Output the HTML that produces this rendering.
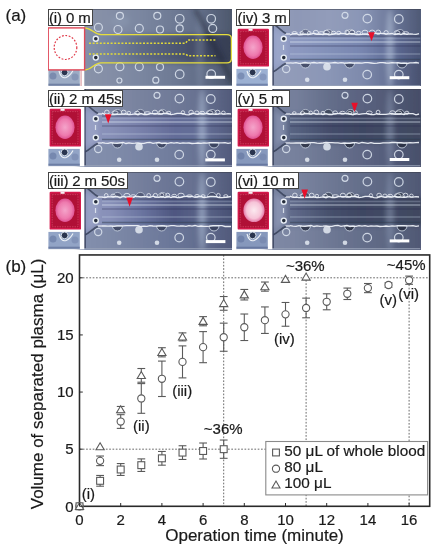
<!DOCTYPE html>
<html><head><meta charset="utf-8"><title>Plasma separation</title><style>
*{box-sizing:border-box}
html,body{margin:0;padding:0}
body{width:434px;height:550px;background:#fff;position:relative;overflow:hidden;font-family:"Liberation Sans",Arial,sans-serif;color:#1a1a1a}
.chart{position:absolute;left:0;top:0}
.tag{position:absolute;font-size:17px;line-height:1;-webkit-text-stroke:0.2px #1a1a1a}
.pan{position:absolute;width:184.3px;height:77.3px;overflow:hidden}
.ph{position:absolute;left:0;top:0}
.lb{position:absolute;left:0;top:0;height:17px;background:#fff;border:1px solid #444;font-size:15px;line-height:15px;padding:0 0 0 0.3px;letter-spacing:-0.12px;-webkit-text-stroke:0.2px #1a1a1a;white-space:nowrap;z-index:5}
</style></head>
<body>
<div class="tag" style="left:5.5px;top:6.5px">(a)</div>
<div class="tag" style="left:5.5px;top:258px">(b)</div>
<div class="pan" style="left:47.6px;top:9.2px"><svg class="ph" width="184.3" height="77.3" viewBox="0 0 184.3 77.3">
<defs>
<linearGradient id="gti" x1="0" y1="0" x2="1" y2="0"><stop offset="0.000" stop-color="#8a94aa"/><stop offset="0.200" stop-color="#848ea6"/><stop offset="0.400" stop-color="#7a86a0"/><stop offset="0.600" stop-color="#6e7a94"/><stop offset="0.800" stop-color="#5e6a84"/><stop offset="1.000" stop-color="#4a5468"/></linearGradient>
<linearGradient id="gci" x1="0" y1="0" x2="1" y2="0"><stop offset="0.000" stop-color="#8a96ac"/><stop offset="0.200" stop-color="#7482a0"/><stop offset="0.400" stop-color="#5e6a86"/><stop offset="0.600" stop-color="#4e5874"/><stop offset="0.800" stop-color="#3e4660"/><stop offset="1.000" stop-color="#343c50"/></linearGradient>
<linearGradient id="gbi" x1="0" y1="0" x2="1" y2="0"><stop offset="0.000" stop-color="#8a94aa"/><stop offset="0.200" stop-color="#848ea6"/><stop offset="0.400" stop-color="#7a86a0"/><stop offset="0.600" stop-color="#6e7a94"/><stop offset="0.800" stop-color="#5e6a84"/><stop offset="1.000" stop-color="#4a5468"/></linearGradient>
<filter id="bli" x="-50%" y="-50%" width="200%" height="200%"><feGaussianBlur stdDeviation="2.5"/></filter>
<filter id="bsi" x="-50%" y="-50%" width="200%" height="200%"><feGaussianBlur stdDeviation="0.5"/></filter>
<radialGradient id="pki" cx="0.5" cy="0.5" r="0.5"><stop offset="0" stop-color="#f4a4ca"/><stop offset="0.7" stop-color="#ee7aae"/><stop offset="1" stop-color="#de5292"/></radialGradient>
</defs>
<g filter="url(#bli)">
<rect x="30" y="-5" width="159.3" height="31" fill="url(#gti)"/>
<rect x="30" y="52" width="159.3" height="30.299999999999997" fill="url(#gbi)"/>
<path d="M30 17 C44 17 46 25 54 25 L189.3 25 L189.3 54 L54 54 C46 54 44 61 30 61 Z" fill="url(#gci)"/>
<ellipse cx="152" cy="40" rx="4" ry="45" fill="#8a98b0" opacity="0.35"/>
<ellipse cx="72" cy="12" rx="10" ry="6" fill="#8c9ab2" opacity="0.5"/>
</g>
<path d="M145 0 L150 0 L184 66 L184 77 Z" fill="#1c2030" opacity="0.55" filter="url(#bli)"/>
<g fill="none" stroke="#d8e0ec" stroke-width="1.2" opacity="0.9" filter="url(#bsi)">
<circle cx="50.4" cy="18.4" r="4"/>
<circle cx="71.9" cy="6.8" r="3.5"/>
<circle cx="70" cy="20.5" r="4"/>
<circle cx="91.3" cy="19.4" r="4"/>
<circle cx="109.3" cy="6.8" r="3.5"/>
<circle cx="131.7" cy="9.8" r="4.3"/>
<circle cx="163.2" cy="9.8" r="4.3"/>
<circle cx="164.7" cy="19.4" r="4"/>
<circle cx="112" cy="20.5" r="3.5"/>
<circle cx="131.7" cy="19.4" r="3.5"/>
<circle cx="50.4" cy="59.8" r="4"/>
<circle cx="71.9" cy="57.7" r="4"/>
<circle cx="91.3" cy="57.7" r="4"/>
<circle cx="107.8" cy="71.2" r="3"/>
<circle cx="131.7" cy="65.2" r="4.3"/>
<circle cx="163.2" cy="65.2" r="4.3"/>
<circle cx="71.4" cy="71.5" r="2.5"/>
<circle cx="112" cy="58" r="3.5"/>
</g>
<g fill="none" stroke="#e6de3c" stroke-width="1.3">
<path d="M36.5 18.8 C44 19 46 25.6 53 25.6 L179 25.6 Q183.4 25.6 183.4 29.5 L183.4 49.8 Q183.4 53.8 179 53.8 L53 53.8 C46 53.8 44 61 36.5 61"/>
</g>
<g fill="none" stroke="#e2da3a" stroke-width="1.5" stroke-dasharray="2 1.6">
<path d="M41 34.3 L137.5 34.3 L140 31 L167.5 31"/>
<path d="M41 45 L137.5 45 L140 46.8 L167.5 46.8"/>
</g>
<circle cx="47.8" cy="29.8" r="2.5" fill="#262e3c" stroke="#e8eef6" stroke-width="1.4"/>
<circle cx="47.8" cy="48.6" r="2.5" fill="#262e3c" stroke="#e8eef6" stroke-width="1.4"/>
<rect x="157.5" y="66.8" width="19.6" height="3" fill="#fff"/>
<rect x="0" y="0" width="184.3" height="1" fill="#3a3e4a" opacity="0.55"/>
<rect x="0" y="76.1" width="184.3" height="1.2" fill="#9aa4b8" opacity="0.8"/>
<rect x="0" y="0" width="36.3" height="77.3" fill="#ffffff"/>
<rect x="0.4" y="59.9" width="31.4" height="16.9" fill="#9cabc4"/>
<g filter="url(#bsi)"><circle cx="16.6" cy="63.4" r="3.4" fill="#2a3650"/><circle cx="16.6" cy="63.4" r="3.4" fill="none" stroke="#dfe8f2" stroke-width="0.9"/><path d="M11 62 Q13 70 18 68.5 Q22 67 25 61.5" fill="none" stroke="#f0f4f8" stroke-width="1.1"/><circle cx="5" cy="67" r="3.5" fill="#5a6c98" opacity="0.5"/><circle cx="27" cy="68" r="3.5" fill="#6a7ca4" opacity="0.45"/></g>
<rect x="0.4" y="74.7" width="31.4" height="2.1" fill="#4e5e8a" opacity="0.55"/>
<rect x="0.2" y="18.9" width="36.4" height="42" fill="#fff" stroke="#e04858" stroke-width="1.4"/>
<ellipse cx="17.5" cy="38.5" rx="11.3" ry="12" fill="none" stroke="#e03848" stroke-width="1.2" stroke-dasharray="1.8 1.6"/>
<rect x="32.6" y="61" width="0.9" height="16.299999999999997" fill="#d08088"/>
</svg><div class="lb" style="width:45.6px;top:-0.2px">(i) 0 m</div></div>
<div class="pan" style="left:47.6px;top:89.4px"><svg class="ph" width="184.3" height="77.3" viewBox="0 0 184.3 77.3">
<defs>
<linearGradient id="gtii" x1="0" y1="0" x2="1" y2="0"><stop offset="0.000" stop-color="#848ea8"/><stop offset="0.200" stop-color="#808aa6"/><stop offset="0.400" stop-color="#78829e"/><stop offset="0.600" stop-color="#707a98"/><stop offset="0.800" stop-color="#646e8e"/><stop offset="1.000" stop-color="#4e5676"/></linearGradient>
<linearGradient id="gcii" x1="0" y1="0" x2="1" y2="0"><stop offset="0.000" stop-color="#8c94bc"/><stop offset="0.200" stop-color="#8890b8"/><stop offset="0.400" stop-color="#7880aa"/><stop offset="0.600" stop-color="#646c98"/><stop offset="0.800" stop-color="#646e96"/><stop offset="1.000" stop-color="#4e5678"/></linearGradient>
<linearGradient id="gbii" x1="0" y1="0" x2="1" y2="0"><stop offset="0.000" stop-color="#8490ae"/><stop offset="0.200" stop-color="#808caa"/><stop offset="0.400" stop-color="#7884a4"/><stop offset="0.600" stop-color="#707c9c"/><stop offset="0.800" stop-color="#646e90"/><stop offset="1.000" stop-color="#4e5678"/></linearGradient>
<filter id="blii" x="-50%" y="-50%" width="200%" height="200%"><feGaussianBlur stdDeviation="2.5"/></filter>
<filter id="bsii" x="-50%" y="-50%" width="200%" height="200%"><feGaussianBlur stdDeviation="0.5"/></filter>
<radialGradient id="pkii" cx="0.5" cy="0.5" r="0.5"><stop offset="0" stop-color="#f4a4ca"/><stop offset="0.7" stop-color="#ee7aae"/><stop offset="1" stop-color="#de5292"/></radialGradient>
</defs>
<g filter="url(#blii)">
<rect x="30" y="-5" width="159.3" height="31" fill="url(#gtii)"/>
<rect x="30" y="52" width="159.3" height="30.299999999999997" fill="url(#gbii)"/>
<path d="M30 17 C44 17 46 25 54 25 L189.3 25 L189.3 54 L54 54 C46 54 44 61 30 61 Z" fill="url(#gcii)"/>
<ellipse cx="154" cy="40" rx="3.5" ry="40" fill="#b4c4dc" opacity="0.55"/>
</g>
<g fill="none" stroke-width="1.3" filter="url(#bsii)">
<path d="M54 27.2 L184.3 27.2" stroke="#2a3048" opacity="0.4"/>
<path d="M54 29.5 L184.3 29.5" stroke="#c8d4e8" opacity="0.25"/>
<path d="M54 33 L184.3 33" stroke="#dde6f4" opacity="0.45"/>
<path d="M54 37 L184.3 37" stroke="#2a3048" opacity="0.3"/>
<path d="M54 45 L184.3 45" stroke="#c8d4e8" opacity="0.3"/>
<path d="M54 50.5 L184.3 50.5" stroke="#2a3048" opacity="0.45"/>
</g>
<g fill="none" stroke="#d8e0ec" stroke-width="1.2" opacity="0.9" filter="url(#bsii)">
<circle cx="109" cy="6.3" r="3"/>
<circle cx="131.4" cy="9.6" r="4.3"/>
<circle cx="162.8" cy="10" r="4.3"/>
<circle cx="50.2" cy="60" r="3.6"/>
<circle cx="131.2" cy="65.6" r="4.3"/>
<circle cx="162.8" cy="65.6" r="4.3"/>
</g>
<g fill="#e4eaf2" opacity="0.85" filter="url(#bsii)">
<circle cx="91" cy="57.7" r="3.8"/>
<circle cx="71.2" cy="70.8" r="2.3"/>
<circle cx="109" cy="70.8" r="2.3"/>
</g>
<g filter="url(#bsii)" stroke="#c4cede" stroke-width="0.9" fill="#323a54">
<path d="M64.80000000000001 25 A4.6 4.6 0 0 1 74.0 25 Z" fill-opacity="0.5" stroke-opacity="0.8"/>
<path d="M87.80000000000001 25 A4.6 4.6 0 0 1 97.0 25 Z" fill-opacity="0.5" stroke-opacity="0.8"/>
<path d="M109.9 25 A4.6 4.6 0 0 1 119.1 25 Z" fill-opacity="0.5" stroke-opacity="0.8"/>
<path d="M159.4 25 A4.6 4.6 0 0 1 168.6 25 Z" fill-opacity="0.5" stroke-opacity="0.8"/>
<path d="M64.4 54 A5 5 0 0 0 74.4 54 Z" fill-opacity="0.75"/>
<path d="M108.6 54 A5 5 0 0 0 118.6 54 Z" fill-opacity="0.75"/>
<path d="M161 54 A5 5 0 0 0 171 54 Z" fill-opacity="0.75"/>
</g>
<g fill="none" stroke="#eef2f8" stroke-width="1.3" filter="url(#bsii)" opacity="0.95">
<path d="M49 25 L54 25"/><path d="M54.0,24.2 L57.0,25.3 L60.0,25.1 L63.0,25.6 L66.0,25.7 L69.0,25.3 L72.0,25.4 L75.0,25.1 L78.0,25.0 L81.0,25.6 L84.0,25.4 L87.0,24.8 L90.0,25.7 L93.0,24.4 L96.0,25.5 L99.0,25.6 L102.0,24.6 L105.0,24.6 L108.0,24.7 L111.0,25.0 L114.0,24.7 L117.0,24.2 L120.0,24.5 L123.0,25.6 L126.0,25.1 L129.0,24.3 L132.0,24.4 L135.0,24.6 L138.0,25.7 L141.0,25.8 L144.0,24.2 L147.0,24.9 L150.0,25.4 L153.0,24.3 L156.0,25.1 L159.0,24.3 L162.0,25.2 L165.0,25.1 L168.0,25.4 L171.0,24.8 L174.0,24.8 L177.0,25.1 L180.0,24.7 L183.0,25.0"/>
<path d="M49 54 L54 54"/><path d="M54.0,53.6 L57.0,54.1 L60.0,54.3 L63.0,53.6 L66.0,54.1 L69.0,54.4 L72.0,53.8 L75.0,53.5 L78.0,54.5 L81.0,53.9 L84.0,54.3 L87.0,54.2 L90.0,53.9 L93.0,54.5 L96.0,54.4 L99.0,53.6 L102.0,53.5 L105.0,54.4 L108.0,53.9 L111.0,53.5 L114.0,54.5 L117.0,54.2 L120.0,54.3 L123.0,53.7 L126.0,54.1 L129.0,53.7 L132.0,54.4 L135.0,53.9 L138.0,54.1 L141.0,54.0 L144.0,54.5 L147.0,54.4 L150.0,54.0 L153.0,54.4 L156.0,53.8 L159.0,54.2 L162.0,53.6 L165.0,53.7 L168.0,53.7 L171.0,53.9 L174.0,53.9 L177.0,53.6 L180.0,54.4 L183.0,53.9"/>
</g>
<g fill="none" stroke="#283048" stroke-width="1.7" opacity="0.75" filter="url(#bsii)">
<path d="M36.8 15 C42 17 45 22 50 24.6"/><path d="M36.8 63 C42 61 45 56 50 54.4"/><path d="M37 0 L37 77"/>
</g>
<path d="M38 20 C43 22 46 26 50 27 L50 52 C46 53 43 57 38 59 Z" fill="#a8b2d0" opacity="0.45" filter="url(#blii)"/>
<rect x="46.9" y="36" width="1.2" height="5" fill="#e8eef6" opacity="0.8"/>
<g fill="none" stroke="#f2f5fa" stroke-width="0.9" opacity="0.85" filter="url(#bsii)">
<ellipse cx="58.9" cy="23.3" rx="2.3" ry="2.2"/>
<ellipse cx="67.0" cy="23.6" rx="2.9" ry="1.7"/>
<ellipse cx="75.7" cy="23.3" rx="2.4" ry="2.1"/>
<ellipse cx="80.9" cy="23.8" rx="1.7" ry="1.5"/>
<ellipse cx="89.1" cy="23.8" rx="2.4" ry="1.5"/>
<ellipse cx="99.4" cy="24.0" rx="3.1" ry="1.3"/>
<ellipse cx="106.9" cy="23.3" rx="2.6" ry="2.1"/>
<ellipse cx="113.3" cy="23.4" rx="2.3" ry="2.0"/>
<ellipse cx="120.8" cy="23.8" rx="2.0" ry="1.5"/>
<ellipse cx="134.9" cy="23.5" rx="1.7" ry="1.8"/>
<ellipse cx="143.1" cy="23.3" rx="2.3" ry="2.1"/>
<ellipse cx="148.9" cy="23.7" rx="2.0" ry="1.6"/>
<ellipse cx="154.1" cy="23.8" rx="2.5" ry="1.5"/>
<ellipse cx="161.6" cy="23.5" rx="3.2" ry="1.8"/>
<ellipse cx="169.5" cy="23.3" rx="2.5" ry="2.1"/>
<ellipse cx="175.4" cy="23.7" rx="1.8" ry="1.6"/>
</g>
<circle cx="47.8" cy="29.8" r="2.5" fill="#262e3c" stroke="#e8eef6" stroke-width="1.4"/>
<circle cx="47.8" cy="48.6" r="2.5" fill="#262e3c" stroke="#e8eef6" stroke-width="1.4"/>
<rect x="157.3" y="69.4" width="19.6" height="3" fill="#fff"/>
<polygon points="56.900000000000006,25.35 63.5,25.35 60.2,34.55" fill="#e8102a"/>
<rect x="0" y="0" width="184.3" height="1" fill="#3a3e4a" opacity="0.55"/>
<rect x="0" y="76.1" width="184.3" height="1.2" fill="#9aa4b8" opacity="0.8"/>
<rect x="0" y="0" width="36.3" height="77.3" fill="#ffffff"/>
<rect x="0.4" y="59.9" width="31.4" height="16.9" fill="#92a4c6"/>
<g filter="url(#bsii)"><circle cx="16.6" cy="63.4" r="3.4" fill="#2a3650"/><circle cx="16.6" cy="63.4" r="3.4" fill="none" stroke="#dfe8f2" stroke-width="0.9"/><path d="M11 62 Q13 70 18 68.5 Q22 67 25 61.5" fill="none" stroke="#f0f4f8" stroke-width="1.1"/><circle cx="5" cy="67" r="3.5" fill="#5a6c98" opacity="0.5"/><circle cx="27" cy="68" r="3.5" fill="#6a7ca4" opacity="0.45"/></g>
<rect x="0.4" y="74.7" width="31.4" height="2.1" fill="#4e5e8a" opacity="0.55"/>
<rect x="1.6" y="19.8" width="31.4" height="37.8" rx="1.2" fill="#d41a4c"/>
<rect x="3" y="21.4" width="28.6" height="34.6" rx="1" fill="#b01036"/>
<rect x="4.2" y="22.6" width="25.8" height="32.2" fill="none" stroke="#e8607e" stroke-width="0.6" stroke-dasharray="1.5 1" opacity="0.85"/>
<ellipse cx="17" cy="38.3" rx="9.6" ry="11.7" fill="url(#pkii)" filter="url(#bsii)"/>
<rect x="12.5" y="19.6" width="4.1" height="2.2" fill="#f6eef2"/>
</svg><div class="lb" style="width:75.8px;top:0.8px">(ii) 2 m 45s</div></div>
<div class="pan" style="left:47.6px;top:172.3px"><svg class="ph" width="184.3" height="77.3" viewBox="0 0 184.3 77.3">
<defs>
<linearGradient id="gtiii" x1="0" y1="0" x2="1" y2="0"><stop offset="0.000" stop-color="#848ea8"/><stop offset="0.200" stop-color="#808aa6"/><stop offset="0.400" stop-color="#747e9c"/><stop offset="0.600" stop-color="#6a7494"/><stop offset="0.800" stop-color="#646e8e"/><stop offset="1.000" stop-color="#4e5676"/></linearGradient>
<linearGradient id="gciii" x1="0" y1="0" x2="1" y2="0"><stop offset="0.000" stop-color="#8c94bc"/><stop offset="0.200" stop-color="#8890b8"/><stop offset="0.400" stop-color="#6a74a0"/><stop offset="0.600" stop-color="#4e5680"/><stop offset="0.800" stop-color="#5a6488"/><stop offset="1.000" stop-color="#444c70"/></linearGradient>
<linearGradient id="gbiii" x1="0" y1="0" x2="1" y2="0"><stop offset="0.000" stop-color="#8490ae"/><stop offset="0.200" stop-color="#7e8aa8"/><stop offset="0.400" stop-color="#7480a0"/><stop offset="0.600" stop-color="#6a7698"/><stop offset="0.800" stop-color="#606a8c"/><stop offset="1.000" stop-color="#4e5678"/></linearGradient>
<filter id="bliii" x="-50%" y="-50%" width="200%" height="200%"><feGaussianBlur stdDeviation="2.5"/></filter>
<filter id="bsiii" x="-50%" y="-50%" width="200%" height="200%"><feGaussianBlur stdDeviation="0.5"/></filter>
<radialGradient id="pkiii" cx="0.5" cy="0.5" r="0.5"><stop offset="0" stop-color="#f4a4ca"/><stop offset="0.7" stop-color="#ee7aae"/><stop offset="1" stop-color="#de5292"/></radialGradient>
</defs>
<g filter="url(#bliii)">
<rect x="30" y="-5" width="159.3" height="31" fill="url(#gtiii)"/>
<rect x="30" y="52" width="159.3" height="30.299999999999997" fill="url(#gbiii)"/>
<path d="M30 17 C44 17 46 25 54 25 L189.3 25 L189.3 54 L54 54 C46 54 44 61 30 61 Z" fill="url(#gciii)"/>
<ellipse cx="154" cy="40" rx="3.5" ry="40" fill="#b4c4dc" opacity="0.55"/>
</g>
<g fill="none" stroke-width="1.3" filter="url(#bsiii)">
<path d="M54 27.2 L184.3 27.2" stroke="#2a3048" opacity="0.4"/>
<path d="M54 29.5 L184.3 29.5" stroke="#c8d4e8" opacity="0.25"/>
<path d="M54 33 L184.3 33" stroke="#dde6f4" opacity="0.45"/>
<path d="M54 37 L184.3 37" stroke="#2a3048" opacity="0.3"/>
<path d="M54 45 L184.3 45" stroke="#c8d4e8" opacity="0.3"/>
<path d="M54 50.5 L184.3 50.5" stroke="#2a3048" opacity="0.45"/>
</g>
<g fill="none" stroke="#d8e0ec" stroke-width="1.2" opacity="0.9" filter="url(#bsiii)">
<circle cx="109" cy="6.3" r="3"/>
<circle cx="131.4" cy="9.6" r="4.3"/>
<circle cx="162.8" cy="10" r="4.3"/>
<circle cx="50.2" cy="60" r="3.6"/>
<circle cx="131.2" cy="65.6" r="4.3"/>
<circle cx="162.8" cy="65.6" r="4.3"/>
</g>
<g fill="#e4eaf2" opacity="0.85" filter="url(#bsiii)">
<circle cx="91" cy="57.7" r="3.8"/>
<circle cx="71.2" cy="70.8" r="2.3"/>
<circle cx="109" cy="70.8" r="2.3"/>
</g>
<g filter="url(#bsiii)" stroke="#c4cede" stroke-width="0.9" fill="#323a54">
<path d="M64.80000000000001 25 A4.6 4.6 0 0 1 74.0 25 Z" fill-opacity="0.5" stroke-opacity="0.8"/>
<path d="M87.80000000000001 25 A4.6 4.6 0 0 1 97.0 25 Z" fill-opacity="0.5" stroke-opacity="0.8"/>
<path d="M109.9 25 A4.6 4.6 0 0 1 119.1 25 Z" fill-opacity="0.5" stroke-opacity="0.8"/>
<path d="M159.4 25 A4.6 4.6 0 0 1 168.6 25 Z" fill-opacity="0.5" stroke-opacity="0.8"/>
<path d="M64.4 54 A5 5 0 0 0 74.4 54 Z" fill-opacity="0.75"/>
<path d="M108.6 54 A5 5 0 0 0 118.6 54 Z" fill-opacity="0.75"/>
<path d="M161 54 A5 5 0 0 0 171 54 Z" fill-opacity="0.75"/>
</g>
<g fill="none" stroke="#eef2f8" stroke-width="1.3" filter="url(#bsiii)" opacity="0.95">
<path d="M49 25 L54 25"/><path d="M54.0,25.0 L57.0,25.6 L60.0,24.6 L63.0,24.8 L66.0,24.6 L69.0,24.5 L72.0,25.7 L75.0,24.4 L78.0,25.1 L81.0,24.8 L84.0,25.7 L87.0,24.3 L90.0,24.4 L93.0,24.9 L96.0,24.3 L99.0,24.8 L102.0,25.4 L105.0,24.2 L108.0,25.1 L111.0,25.3 L114.0,24.4 L117.0,25.5 L120.0,24.3 L123.0,25.6 L126.0,24.4 L129.0,25.6 L132.0,25.6 L135.0,24.6 L138.0,24.3 L141.0,24.3 L144.0,24.4 L147.0,25.4 L150.0,24.6 L153.0,24.4 L156.0,25.5 L159.0,25.2 L162.0,24.4 L165.0,24.3 L168.0,24.6 L171.0,25.5 L174.0,25.6 L177.0,25.3 L180.0,25.0 L183.0,24.5"/>
<path d="M49 54 L54 54"/><path d="M54.0,54.0 L57.0,54.0 L60.0,54.1 L63.0,54.0 L66.0,54.4 L69.0,53.8 L72.0,53.9 L75.0,53.9 L78.0,53.6 L81.0,53.7 L84.0,53.6 L87.0,53.6 L90.0,53.6 L93.0,54.5 L96.0,54.2 L99.0,54.3 L102.0,53.6 L105.0,54.0 L108.0,54.1 L111.0,53.8 L114.0,53.7 L117.0,54.0 L120.0,54.2 L123.0,53.6 L126.0,53.6 L129.0,54.1 L132.0,54.0 L135.0,53.8 L138.0,54.4 L141.0,53.7 L144.0,54.1 L147.0,53.5 L150.0,54.4 L153.0,54.0 L156.0,54.3 L159.0,54.3 L162.0,54.2 L165.0,53.6 L168.0,53.7 L171.0,53.6 L174.0,53.7 L177.0,54.5 L180.0,54.3 L183.0,54.5"/>
</g>
<g fill="none" stroke="#283048" stroke-width="1.7" opacity="0.75" filter="url(#bsiii)">
<path d="M36.8 15 C42 17 45 22 50 24.6"/><path d="M36.8 63 C42 61 45 56 50 54.4"/><path d="M37 0 L37 77"/>
</g>
<path d="M38 20 C43 22 46 26 50 27 L50 52 C46 53 43 57 38 59 Z" fill="#a8b2d0" opacity="0.45" filter="url(#bliii)"/>
<rect x="46.9" y="36" width="1.2" height="5" fill="#e8eef6" opacity="0.8"/>
<g fill="none" stroke="#f2f5fa" stroke-width="0.9" opacity="0.85" filter="url(#bsiii)">
<ellipse cx="58.2" cy="23.4" rx="1.8" ry="1.9"/>
<ellipse cx="65.1" cy="23.7" rx="2.1" ry="1.6"/>
<ellipse cx="78.9" cy="23.4" rx="3.0" ry="2.0"/>
<ellipse cx="85.2" cy="24.0" rx="2.6" ry="1.3"/>
<ellipse cx="100.7" cy="23.4" rx="1.9" ry="1.9"/>
<ellipse cx="107.4" cy="23.4" rx="2.1" ry="2.0"/>
<ellipse cx="113.9" cy="23.3" rx="2.0" ry="2.2"/>
<ellipse cx="119.7" cy="23.3" rx="2.0" ry="2.1"/>
<ellipse cx="126.2" cy="23.8" rx="2.4" ry="1.5"/>
<ellipse cx="133.0" cy="23.3" rx="3.2" ry="2.1"/>
<ellipse cx="141.5" cy="24.0" rx="2.8" ry="1.2"/>
<ellipse cx="149.0" cy="23.9" rx="2.2" ry="1.4"/>
<ellipse cx="155.1" cy="24.0" rx="2.0" ry="1.3"/>
<ellipse cx="170.4" cy="23.4" rx="1.8" ry="2.0"/>
<ellipse cx="177.8" cy="24.0" rx="2.1" ry="1.3"/>
</g>
<circle cx="47.8" cy="29.8" r="2.5" fill="#262e3c" stroke="#e8eef6" stroke-width="1.4"/>
<circle cx="47.8" cy="48.6" r="2.5" fill="#262e3c" stroke="#e8eef6" stroke-width="1.4"/>
<rect x="157.8" y="68.1" width="19.6" height="3" fill="#fff"/>
<polygon points="78.3,25.5 84.89999999999999,25.5 81.6,34.7" fill="#e8102a"/>
<rect x="0" y="0" width="184.3" height="1" fill="#3a3e4a" opacity="0.55"/>
<rect x="0" y="76.1" width="184.3" height="1.2" fill="#9aa4b8" opacity="0.8"/>
<rect x="0" y="0" width="36.3" height="77.3" fill="#ffffff"/>
<rect x="0.4" y="59.9" width="31.4" height="16.9" fill="#92a4c6"/>
<g filter="url(#bsiii)"><circle cx="16.6" cy="63.4" r="3.4" fill="#2a3650"/><circle cx="16.6" cy="63.4" r="3.4" fill="none" stroke="#dfe8f2" stroke-width="0.9"/><path d="M11 62 Q13 70 18 68.5 Q22 67 25 61.5" fill="none" stroke="#f0f4f8" stroke-width="1.1"/><circle cx="5" cy="67" r="3.5" fill="#5a6c98" opacity="0.5"/><circle cx="27" cy="68" r="3.5" fill="#6a7ca4" opacity="0.45"/></g>
<rect x="0.4" y="74.7" width="31.4" height="2.1" fill="#4e5e8a" opacity="0.55"/>
<rect x="1.6" y="19.8" width="31.4" height="37.8" rx="1.2" fill="#d41a4c"/>
<rect x="3" y="21.4" width="28.6" height="34.6" rx="1" fill="#b01036"/>
<rect x="4.2" y="22.6" width="25.8" height="32.2" fill="none" stroke="#e8607e" stroke-width="0.6" stroke-dasharray="1.5 1" opacity="0.85"/>
<ellipse cx="17" cy="38.3" rx="9.6" ry="11.7" fill="url(#pkiii)" filter="url(#bsiii)"/>
<rect x="12.5" y="19.6" width="4.1" height="2.2" fill="#f6eef2"/>
</svg><div class="lb" style="width:80.5px;top:0.1px">(iii) 2 m 50s</div></div>
<div class="pan" style="left:236.3px;top:9.2px"><svg class="ph" width="184.3" height="77.3" viewBox="0 0 184.3 77.3">
<defs>
<linearGradient id="gtiv" x1="0" y1="0" x2="1" y2="0"><stop offset="0.000" stop-color="#929cb8"/><stop offset="0.200" stop-color="#8e98b6"/><stop offset="0.400" stop-color="#929cba"/><stop offset="0.600" stop-color="#8a96b6"/><stop offset="0.800" stop-color="#6a7698"/><stop offset="1.000" stop-color="#4a5470"/></linearGradient>
<linearGradient id="gciv" x1="0" y1="0" x2="1" y2="0"><stop offset="0.000" stop-color="#909cc4"/><stop offset="0.200" stop-color="#8c98c0"/><stop offset="0.400" stop-color="#8290b8"/><stop offset="0.600" stop-color="#7886b0"/><stop offset="0.800" stop-color="#5e6a94"/><stop offset="1.000" stop-color="#465070"/></linearGradient>
<linearGradient id="gbiv" x1="0" y1="0" x2="1" y2="0"><stop offset="0.000" stop-color="#949eba"/><stop offset="0.200" stop-color="#909ab8"/><stop offset="0.400" stop-color="#8a96b6"/><stop offset="0.600" stop-color="#7e8aac"/><stop offset="0.800" stop-color="#626e92"/><stop offset="1.000" stop-color="#444c6a"/></linearGradient>
<filter id="bliv" x="-50%" y="-50%" width="200%" height="200%"><feGaussianBlur stdDeviation="2.5"/></filter>
<filter id="bsiv" x="-50%" y="-50%" width="200%" height="200%"><feGaussianBlur stdDeviation="0.5"/></filter>
<radialGradient id="pkiv" cx="0.5" cy="0.5" r="0.5"><stop offset="0" stop-color="#f4a4ca"/><stop offset="0.7" stop-color="#ee7aae"/><stop offset="1" stop-color="#de5292"/></radialGradient>
</defs>
<g filter="url(#bliv)">
<rect x="30" y="-5" width="159.3" height="31" fill="url(#gtiv)"/>
<rect x="30" y="52" width="159.3" height="30.299999999999997" fill="url(#gbiv)"/>
<path d="M30 17 C44 17 46 25 54 25 L189.3 25 L189.3 54 L54 54 C46 54 44 61 30 61 Z" fill="url(#gciv)"/>
<ellipse cx="154" cy="40" rx="3.5" ry="40" fill="#c4d2e6" opacity="0.5"/>
</g>
<g fill="none" stroke-width="1.3" filter="url(#bsiv)">
<path d="M54 27.2 L184.3 27.2" stroke="#2a3048" opacity="0.4"/>
<path d="M54 29.5 L184.3 29.5" stroke="#c8d4e8" opacity="0.25"/>
<path d="M54 33 L184.3 33" stroke="#dde6f4" opacity="0.45"/>
<path d="M54 37 L184.3 37" stroke="#2a3048" opacity="0.3"/>
<path d="M54 45 L184.3 45" stroke="#c8d4e8" opacity="0.3"/>
<path d="M54 50.5 L184.3 50.5" stroke="#2a3048" opacity="0.45"/>
</g>
<g fill="none" stroke="#d8e0ec" stroke-width="1.2" opacity="0.9" filter="url(#bsiv)">
<circle cx="109" cy="6.3" r="3"/>
<circle cx="131.4" cy="9.6" r="4.3"/>
<circle cx="162.8" cy="10" r="4.3"/>
<circle cx="50.2" cy="60" r="3.6"/>
<circle cx="131.2" cy="65.6" r="4.3"/>
<circle cx="162.8" cy="65.6" r="4.3"/>
</g>
<g fill="#e4eaf2" opacity="0.85" filter="url(#bsiv)">
<circle cx="91" cy="57.7" r="3.8"/>
<circle cx="71.2" cy="70.8" r="2.3"/>
<circle cx="109" cy="70.8" r="2.3"/>
</g>
<g filter="url(#bsiv)" stroke="#c4cede" stroke-width="0.9" fill="#323a54">
<path d="M64.80000000000001 25 A4.6 4.6 0 0 1 74.0 25 Z" fill-opacity="0.5" stroke-opacity="0.8"/>
<path d="M87.80000000000001 25 A4.6 4.6 0 0 1 97.0 25 Z" fill-opacity="0.5" stroke-opacity="0.8"/>
<path d="M109.9 25 A4.6 4.6 0 0 1 119.1 25 Z" fill-opacity="0.5" stroke-opacity="0.8"/>
<path d="M159.4 25 A4.6 4.6 0 0 1 168.6 25 Z" fill-opacity="0.5" stroke-opacity="0.8"/>
<path d="M64.4 54 A5 5 0 0 0 74.4 54 Z" fill-opacity="0.75"/>
<path d="M108.6 54 A5 5 0 0 0 118.6 54 Z" fill-opacity="0.75"/>
<path d="M161 54 A5 5 0 0 0 171 54 Z" fill-opacity="0.75"/>
</g>
<g fill="none" stroke="#eef2f8" stroke-width="1.3" filter="url(#bsiv)" opacity="0.95">
<path d="M49 25 L54 25"/><path d="M54.0,25.8 L57.0,24.8 L60.0,24.4 L63.0,25.8 L66.0,25.5 L69.0,25.2 L72.0,25.6 L75.0,25.2 L78.0,24.2 L81.0,25.4 L84.0,25.2 L87.0,25.6 L90.0,24.6 L93.0,25.8 L96.0,25.4 L99.0,24.7 L102.0,25.1 L105.0,24.3 L108.0,24.7 L111.0,25.4 L114.0,24.7 L117.0,24.7 L120.0,25.7 L123.0,25.7 L126.0,25.3 L129.0,24.9 L132.0,25.5 L135.0,25.7 L138.0,24.3 L141.0,24.4 L144.0,24.3 L147.0,24.5 L150.0,24.9 L153.0,24.8 L156.0,24.5 L159.0,25.6 L162.0,24.6 L165.0,25.5 L168.0,24.5 L171.0,25.4 L174.0,24.9 L177.0,25.2 L180.0,25.3 L183.0,24.7"/>
<path d="M49 54 L54 54"/><path d="M54.0,53.9 L57.0,54.2 L60.0,53.7 L63.0,54.3 L66.0,54.1 L69.0,53.5 L72.0,54.2 L75.0,53.9 L78.0,53.5 L81.0,54.2 L84.0,53.7 L87.0,53.9 L90.0,53.8 L93.0,54.2 L96.0,53.8 L99.0,53.5 L102.0,54.1 L105.0,53.7 L108.0,54.0 L111.0,54.1 L114.0,53.6 L117.0,54.2 L120.0,53.8 L123.0,54.0 L126.0,54.2 L129.0,53.7 L132.0,53.7 L135.0,54.0 L138.0,54.3 L141.0,54.1 L144.0,53.6 L147.0,53.7 L150.0,54.0 L153.0,54.1 L156.0,53.6 L159.0,53.8 L162.0,53.6 L165.0,54.3 L168.0,54.2 L171.0,54.5 L174.0,53.8 L177.0,53.9 L180.0,53.5 L183.0,54.1"/>
</g>
<g fill="none" stroke="#283048" stroke-width="1.7" opacity="0.75" filter="url(#bsiv)">
<path d="M36.8 15 C42 17 45 22 50 24.6"/><path d="M36.8 63 C42 61 45 56 50 54.4"/><path d="M37 0 L37 77"/>
</g>
<path d="M38 20 C43 22 46 26 50 27 L50 52 C46 53 43 57 38 59 Z" fill="#a8b2d0" opacity="0.45" filter="url(#bliv)"/>
<rect x="46.9" y="36" width="1.2" height="5" fill="#e8eef6" opacity="0.8"/>
<g fill="none" stroke="#f2f5fa" stroke-width="0.9" opacity="0.85" filter="url(#bsiv)">
<ellipse cx="58.6" cy="23.9" rx="2.6" ry="1.3"/>
<ellipse cx="65.6" cy="23.9" rx="1.7" ry="1.3"/>
<ellipse cx="73.2" cy="23.9" rx="1.8" ry="1.4"/>
<ellipse cx="79.8" cy="23.4" rx="2.6" ry="2.0"/>
<ellipse cx="85.3" cy="24.0" rx="2.9" ry="1.3"/>
<ellipse cx="90.4" cy="23.4" rx="3.0" ry="2.0"/>
<ellipse cx="97.5" cy="23.8" rx="2.3" ry="1.5"/>
<ellipse cx="102.8" cy="23.8" rx="2.0" ry="1.5"/>
<ellipse cx="111.0" cy="23.3" rx="2.0" ry="2.2"/>
<ellipse cx="116.1" cy="23.3" rx="2.7" ry="2.1"/>
<ellipse cx="122.7" cy="23.8" rx="2.2" ry="1.5"/>
<ellipse cx="129.0" cy="23.3" rx="3.0" ry="2.1"/>
<ellipse cx="136.2" cy="23.3" rx="2.8" ry="2.2"/>
<ellipse cx="142.2" cy="23.3" rx="2.4" ry="2.2"/>
<ellipse cx="150.1" cy="23.5" rx="2.1" ry="1.9"/>
<ellipse cx="161.0" cy="23.5" rx="2.8" ry="1.8"/>
<ellipse cx="169.6" cy="24.0" rx="3.0" ry="1.3"/>
</g>
<circle cx="47.8" cy="29.8" r="2.5" fill="#262e3c" stroke="#e8eef6" stroke-width="1.4"/>
<circle cx="47.8" cy="48.6" r="2.5" fill="#262e3c" stroke="#e8eef6" stroke-width="1.4"/>
<rect x="153.7" y="67.2" width="19.6" height="3" fill="#fff"/>
<polygon points="132.2,23.15 138.8,23.15 135.5,32.35" fill="#e8102a"/>
<rect x="0" y="0" width="184.3" height="1" fill="#3a3e4a" opacity="0.55"/>
<rect x="0" y="76.1" width="184.3" height="1.2" fill="#9aa4b8" opacity="0.8"/>
<rect x="0" y="0" width="36.3" height="77.3" fill="#ffffff"/>
<rect x="0.4" y="59.9" width="31.4" height="16.9" fill="#9cb0d2"/>
<g filter="url(#bsiv)"><circle cx="16.6" cy="63.4" r="3.4" fill="#2a3650"/><circle cx="16.6" cy="63.4" r="3.4" fill="none" stroke="#dfe8f2" stroke-width="0.9"/><path d="M11 62 Q13 70 18 68.5 Q22 67 25 61.5" fill="none" stroke="#f0f4f8" stroke-width="1.1"/><circle cx="5" cy="67" r="3.5" fill="#5a6c98" opacity="0.5"/><circle cx="27" cy="68" r="3.5" fill="#6a7ca4" opacity="0.45"/></g>
<rect x="0.4" y="74.7" width="31.4" height="2.1" fill="#4e5e8a" opacity="0.55"/>
<rect x="1.6" y="19.8" width="31.4" height="37.8" rx="1.2" fill="#d41a4c"/>
<rect x="3" y="21.4" width="28.6" height="34.6" rx="1" fill="#b01036"/>
<rect x="4.2" y="22.6" width="25.8" height="32.2" fill="none" stroke="#e8607e" stroke-width="0.6" stroke-dasharray="1.5 1" opacity="0.85"/>
<ellipse cx="17" cy="38.3" rx="9.6" ry="11.7" fill="url(#pkiv)" filter="url(#bsiv)"/>
<rect x="12.5" y="19.6" width="4.1" height="2.2" fill="#f6eef2"/>
</svg><div class="lb" style="width:54.1px;top:-0.2px">(iv) 3 m</div></div>
<div class="pan" style="left:236.3px;top:89.4px"><svg class="ph" width="184.3" height="77.3" viewBox="0 0 184.3 77.3">
<defs>
<linearGradient id="gtv" x1="0" y1="0" x2="1" y2="0"><stop offset="0.000" stop-color="#7a84a0"/><stop offset="0.200" stop-color="#747e9a"/><stop offset="0.400" stop-color="#646e8a"/><stop offset="0.600" stop-color="#5a6280"/><stop offset="0.800" stop-color="#505874"/><stop offset="1.000" stop-color="#444c66"/></linearGradient>
<linearGradient id="gcv" x1="0" y1="0" x2="1" y2="0"><stop offset="0.000" stop-color="#6a7492"/><stop offset="0.200" stop-color="#54607e"/><stop offset="0.400" stop-color="#444c6a"/><stop offset="0.600" stop-color="#3e4662"/><stop offset="0.800" stop-color="#424a64"/><stop offset="1.000" stop-color="#3e465e"/></linearGradient>
<linearGradient id="gbv" x1="0" y1="0" x2="1" y2="0"><stop offset="0.000" stop-color="#7c86a2"/><stop offset="0.200" stop-color="#76809c"/><stop offset="0.400" stop-color="#6a7490"/><stop offset="0.600" stop-color="#5e6684"/><stop offset="0.800" stop-color="#525a78"/><stop offset="1.000" stop-color="#464e68"/></linearGradient>
<filter id="blv" x="-50%" y="-50%" width="200%" height="200%"><feGaussianBlur stdDeviation="2.5"/></filter>
<filter id="bsv" x="-50%" y="-50%" width="200%" height="200%"><feGaussianBlur stdDeviation="0.5"/></filter>
<radialGradient id="pkv" cx="0.5" cy="0.5" r="0.5"><stop offset="0" stop-color="#f4a4ca"/><stop offset="0.7" stop-color="#ee7aae"/><stop offset="1" stop-color="#de5292"/></radialGradient>
</defs>
<g filter="url(#blv)">
<rect x="30" y="-5" width="159.3" height="31" fill="url(#gtv)"/>
<rect x="30" y="52" width="159.3" height="30.299999999999997" fill="url(#gbv)"/>
<path d="M30 17 C44 17 46 25 54 25 L189.3 25 L189.3 54 L54 54 C46 54 44 61 30 61 Z" fill="url(#gcv)"/>
<ellipse cx="154" cy="40" rx="3.5" ry="40" fill="#8e9cb8" opacity="0.5"/>
</g>
<g fill="none" stroke-width="1.3" filter="url(#bsv)">
<path d="M54 27.2 L184.3 27.2" stroke="#2a3048" opacity="0.4"/>
<path d="M54 29.5 L184.3 29.5" stroke="#c8d4e8" opacity="0.25"/>
<path d="M54 33 L184.3 33" stroke="#dde6f4" opacity="0.45"/>
<path d="M54 37 L184.3 37" stroke="#2a3048" opacity="0.3"/>
<path d="M54 45 L184.3 45" stroke="#c8d4e8" opacity="0.3"/>
<path d="M54 50.5 L184.3 50.5" stroke="#2a3048" opacity="0.45"/>
</g>
<g fill="none" stroke="#d8e0ec" stroke-width="1.2" opacity="0.9" filter="url(#bsv)">
<circle cx="109" cy="6.3" r="3"/>
<circle cx="131.4" cy="9.6" r="4.3"/>
<circle cx="162.8" cy="10" r="4.3"/>
<circle cx="50.2" cy="60" r="3.6"/>
<circle cx="131.2" cy="65.6" r="4.3"/>
<circle cx="162.8" cy="65.6" r="4.3"/>
</g>
<g fill="#e4eaf2" opacity="0.85" filter="url(#bsv)">
<circle cx="91" cy="57.7" r="3.8"/>
<circle cx="71.2" cy="70.8" r="2.3"/>
<circle cx="109" cy="70.8" r="2.3"/>
</g>
<g filter="url(#bsv)" stroke="#c4cede" stroke-width="0.9" fill="#222838">
<path d="M64.80000000000001 25 A4.6 4.6 0 0 1 74.0 25 Z" fill-opacity="0.5" stroke-opacity="0.8"/>
<path d="M87.80000000000001 25 A4.6 4.6 0 0 1 97.0 25 Z" fill-opacity="0.5" stroke-opacity="0.8"/>
<path d="M109.9 25 A4.6 4.6 0 0 1 119.1 25 Z" fill-opacity="0.5" stroke-opacity="0.8"/>
<path d="M159.4 25 A4.6 4.6 0 0 1 168.6 25 Z" fill-opacity="0.5" stroke-opacity="0.8"/>
<path d="M64.4 54 A5 5 0 0 0 74.4 54 Z" fill-opacity="0.75"/>
<path d="M108.6 54 A5 5 0 0 0 118.6 54 Z" fill-opacity="0.75"/>
<path d="M161 54 A5 5 0 0 0 171 54 Z" fill-opacity="0.75"/>
</g>
<g fill="none" stroke="#eef2f8" stroke-width="1.3" filter="url(#bsv)" opacity="0.95">
<path d="M49 25 L54 25"/><path d="M54.0,25.3 L57.0,25.2 L60.0,25.1 L63.0,25.0 L66.0,25.5 L69.0,24.4 L72.0,24.7 L75.0,25.1 L78.0,24.4 L81.0,25.2 L84.0,24.8 L87.0,25.5 L90.0,24.6 L93.0,25.5 L96.0,25.7 L99.0,24.6 L102.0,24.6 L105.0,24.3 L108.0,24.7 L111.0,24.6 L114.0,25.0 L117.0,25.8 L120.0,24.7 L123.0,25.4 L126.0,24.8 L129.0,24.7 L132.0,24.6 L135.0,25.6 L138.0,25.7 L141.0,24.6 L144.0,25.3 L147.0,25.3 L150.0,25.3 L153.0,24.8 L156.0,24.4 L159.0,25.3 L162.0,25.0 L165.0,24.9 L168.0,25.5 L171.0,24.5 L174.0,24.6 L177.0,24.7 L180.0,25.8 L183.0,25.0"/>
<path d="M49 54 L54 54"/><path d="M54.0,54.1 L57.0,54.2 L60.0,54.0 L63.0,54.0 L66.0,53.8 L69.0,54.3 L72.0,53.8 L75.0,53.6 L78.0,53.7 L81.0,54.1 L84.0,54.4 L87.0,54.0 L90.0,53.5 L93.0,53.7 L96.0,53.6 L99.0,53.8 L102.0,53.8 L105.0,54.4 L108.0,54.0 L111.0,54.3 L114.0,54.3 L117.0,53.6 L120.0,53.6 L123.0,54.4 L126.0,53.5 L129.0,53.9 L132.0,54.3 L135.0,53.7 L138.0,54.3 L141.0,54.4 L144.0,54.3 L147.0,53.8 L150.0,53.8 L153.0,53.8 L156.0,53.5 L159.0,53.5 L162.0,53.7 L165.0,53.7 L168.0,54.2 L171.0,53.8 L174.0,53.6 L177.0,53.8 L180.0,53.6 L183.0,53.5"/>
</g>
<g fill="none" stroke="#283048" stroke-width="1.7" opacity="0.75" filter="url(#bsv)">
<path d="M36.8 15 C42 17 45 22 50 24.6"/><path d="M36.8 63 C42 61 45 56 50 54.4"/><path d="M37 0 L37 77"/>
</g>
<path d="M38 20 C43 22 46 26 50 27 L50 52 C46 53 43 57 38 59 Z" fill="#a8b2d0" opacity="0.45" filter="url(#blv)"/>
<rect x="46.9" y="36" width="1.2" height="5" fill="#e8eef6" opacity="0.8"/>
<g fill="none" stroke="#f2f5fa" stroke-width="0.9" opacity="0.85" filter="url(#bsv)">
<ellipse cx="58.3" cy="24.0" rx="1.8" ry="1.3"/>
<ellipse cx="66.5" cy="24.0" rx="2.2" ry="1.3"/>
<ellipse cx="74.7" cy="23.7" rx="1.8" ry="1.6"/>
<ellipse cx="80.3" cy="23.3" rx="2.4" ry="2.2"/>
<ellipse cx="87.0" cy="23.8" rx="1.8" ry="1.5"/>
<ellipse cx="99.2" cy="23.6" rx="2.2" ry="1.7"/>
<ellipse cx="106.5" cy="23.8" rx="2.7" ry="1.5"/>
<ellipse cx="113.9" cy="23.9" rx="2.1" ry="1.4"/>
<ellipse cx="119.3" cy="23.5" rx="2.0" ry="1.8"/>
<ellipse cx="133.3" cy="23.7" rx="2.9" ry="1.7"/>
<ellipse cx="142.1" cy="23.3" rx="1.9" ry="2.1"/>
<ellipse cx="156.5" cy="23.6" rx="2.7" ry="1.8"/>
<ellipse cx="162.5" cy="23.6" rx="3.0" ry="1.7"/>
<ellipse cx="170.9" cy="23.8" rx="1.9" ry="1.6"/>
</g>
<circle cx="47.8" cy="29.8" r="2.5" fill="#262e3c" stroke="#e8eef6" stroke-width="1.4"/>
<circle cx="47.8" cy="48.6" r="2.5" fill="#262e3c" stroke="#e8eef6" stroke-width="1.4"/>
<rect x="153.7" y="69.0" width="19.6" height="3" fill="#fff"/>
<polygon points="115.3,13.750000000000002 121.89999999999999,13.750000000000002 118.6,22.950000000000003" fill="#e8102a"/>
<rect x="0" y="0" width="184.3" height="1" fill="#3a3e4a" opacity="0.55"/>
<rect x="0" y="76.1" width="184.3" height="1.2" fill="#9aa4b8" opacity="0.8"/>
<rect x="0" y="0" width="36.3" height="77.3" fill="#ffffff"/>
<rect x="0.4" y="59.9" width="31.4" height="16.9" fill="#8698bc"/>
<g filter="url(#bsv)"><circle cx="16.6" cy="63.4" r="3.4" fill="#2a3650"/><circle cx="16.6" cy="63.4" r="3.4" fill="none" stroke="#dfe8f2" stroke-width="0.9"/><path d="M11 62 Q13 70 18 68.5 Q22 67 25 61.5" fill="none" stroke="#f0f4f8" stroke-width="1.1"/><circle cx="5" cy="67" r="3.5" fill="#5a6c98" opacity="0.5"/><circle cx="27" cy="68" r="3.5" fill="#6a7ca4" opacity="0.45"/></g>
<rect x="0.4" y="74.7" width="31.4" height="2.1" fill="#4e5e8a" opacity="0.55"/>
<rect x="1.6" y="19.8" width="31.4" height="37.8" rx="1.2" fill="#d41a4c"/>
<rect x="3" y="21.4" width="28.6" height="34.6" rx="1" fill="#b01036"/>
<rect x="4.2" y="22.6" width="25.8" height="32.2" fill="none" stroke="#e8607e" stroke-width="0.6" stroke-dasharray="1.5 1" opacity="0.85"/>
<ellipse cx="17" cy="38.3" rx="9.6" ry="11.7" fill="url(#pkv)" filter="url(#bsv)"/>
<rect x="12.5" y="19.6" width="4.1" height="2.2" fill="#f6eef2"/>
</svg><div class="lb" style="width:54.1px;top:0.8px">(v) 5 m</div></div>
<div class="pan" style="left:236.3px;top:172.3px"><svg class="ph" width="184.3" height="77.3" viewBox="0 0 184.3 77.3">
<defs>
<linearGradient id="gtvi" x1="0" y1="0" x2="1" y2="0"><stop offset="0.000" stop-color="#7e88a4"/><stop offset="0.200" stop-color="#7a84a0"/><stop offset="0.400" stop-color="#6e7894"/><stop offset="0.600" stop-color="#646e8a"/><stop offset="0.800" stop-color="#5a6480"/><stop offset="1.000" stop-color="#4e5672"/></linearGradient>
<linearGradient id="gcvi" x1="0" y1="0" x2="1" y2="0"><stop offset="0.000" stop-color="#76809e"/><stop offset="0.200" stop-color="#5c6686"/><stop offset="0.400" stop-color="#46506c"/><stop offset="0.600" stop-color="#3e4662"/><stop offset="0.800" stop-color="#424a64"/><stop offset="1.000" stop-color="#3e465e"/></linearGradient>
<linearGradient id="gbvi" x1="0" y1="0" x2="1" y2="0"><stop offset="0.000" stop-color="#808aa6"/><stop offset="0.200" stop-color="#7a84a0"/><stop offset="0.400" stop-color="#6e7894"/><stop offset="0.600" stop-color="#646e8a"/><stop offset="0.800" stop-color="#5a6480"/><stop offset="1.000" stop-color="#4e5672"/></linearGradient>
<filter id="blvi" x="-50%" y="-50%" width="200%" height="200%"><feGaussianBlur stdDeviation="2.5"/></filter>
<filter id="bsvi" x="-50%" y="-50%" width="200%" height="200%"><feGaussianBlur stdDeviation="0.5"/></filter>
<radialGradient id="pkvi" cx="0.5" cy="0.5" r="0.5"><stop offset="0" stop-color="#fbeaf0"/><stop offset="0.7" stop-color="#f6c4d8"/><stop offset="1" stop-color="#e47aa8"/></radialGradient>
</defs>
<g filter="url(#blvi)">
<rect x="30" y="-5" width="159.3" height="31" fill="url(#gtvi)"/>
<rect x="30" y="52" width="159.3" height="30.299999999999997" fill="url(#gbvi)"/>
<path d="M30 17 C44 17 46 25 54 25 L189.3 25 L189.3 54 L54 54 C46 54 44 61 30 61 Z" fill="url(#gcvi)"/>
<ellipse cx="154" cy="40" rx="3.5" ry="40" fill="#8e9cb8" opacity="0.5"/>
</g>
<g fill="none" stroke-width="1.3" filter="url(#bsvi)">
<path d="M54 27.2 L184.3 27.2" stroke="#2a3048" opacity="0.4"/>
<path d="M54 29.5 L184.3 29.5" stroke="#c8d4e8" opacity="0.25"/>
<path d="M54 33 L184.3 33" stroke="#dde6f4" opacity="0.45"/>
<path d="M54 37 L184.3 37" stroke="#2a3048" opacity="0.3"/>
<path d="M54 45 L184.3 45" stroke="#c8d4e8" opacity="0.3"/>
<path d="M54 50.5 L184.3 50.5" stroke="#2a3048" opacity="0.45"/>
</g>
<g fill="none" stroke="#d8e0ec" stroke-width="1.2" opacity="0.9" filter="url(#bsvi)">
<circle cx="109" cy="6.3" r="3"/>
<circle cx="131.4" cy="9.6" r="4.3"/>
<circle cx="162.8" cy="10" r="4.3"/>
<circle cx="50.2" cy="60" r="3.6"/>
<circle cx="131.2" cy="65.6" r="4.3"/>
<circle cx="162.8" cy="65.6" r="4.3"/>
</g>
<g fill="#e4eaf2" opacity="0.85" filter="url(#bsvi)">
<circle cx="91" cy="57.7" r="3.8"/>
<circle cx="71.2" cy="70.8" r="2.3"/>
<circle cx="109" cy="70.8" r="2.3"/>
</g>
<g filter="url(#bsvi)" stroke="#c4cede" stroke-width="0.9" fill="#222838">
<path d="M64.80000000000001 25 A4.6 4.6 0 0 1 74.0 25 Z" fill-opacity="0.5" stroke-opacity="0.8"/>
<path d="M87.80000000000001 25 A4.6 4.6 0 0 1 97.0 25 Z" fill-opacity="0.5" stroke-opacity="0.8"/>
<path d="M109.9 25 A4.6 4.6 0 0 1 119.1 25 Z" fill-opacity="0.5" stroke-opacity="0.8"/>
<path d="M159.4 25 A4.6 4.6 0 0 1 168.6 25 Z" fill-opacity="0.5" stroke-opacity="0.8"/>
<path d="M64.4 54 A5 5 0 0 0 74.4 54 Z" fill-opacity="0.75"/>
<path d="M108.6 54 A5 5 0 0 0 118.6 54 Z" fill-opacity="0.75"/>
<path d="M161 54 A5 5 0 0 0 171 54 Z" fill-opacity="0.75"/>
</g>
<g fill="none" stroke="#eef2f8" stroke-width="1.3" filter="url(#bsvi)" opacity="0.95">
<path d="M49 25 L54 25"/><path d="M54.0,24.2 L57.0,25.3 L60.0,25.1 L63.0,25.6 L66.0,25.7 L69.0,25.3 L72.0,25.4 L75.0,25.1 L78.0,25.0 L81.0,25.6 L84.0,25.4 L87.0,24.8 L90.0,25.7 L93.0,24.4 L96.0,25.5 L99.0,25.6 L102.0,24.6 L105.0,24.6 L108.0,24.7 L111.0,25.0 L114.0,24.7 L117.0,24.2 L120.0,24.5 L123.0,25.6 L126.0,25.1 L129.0,24.3 L132.0,24.4 L135.0,24.6 L138.0,25.7 L141.0,25.8 L144.0,24.2 L147.0,24.9 L150.0,25.4 L153.0,24.3 L156.0,25.1 L159.0,24.3 L162.0,25.2 L165.0,25.1 L168.0,25.4 L171.0,24.8 L174.0,24.8 L177.0,25.1 L180.0,24.7 L183.0,25.0"/>
<path d="M49 54 L54 54"/><path d="M54.0,53.6 L57.0,54.1 L60.0,54.3 L63.0,53.6 L66.0,54.1 L69.0,54.4 L72.0,53.8 L75.0,53.5 L78.0,54.5 L81.0,53.9 L84.0,54.3 L87.0,54.2 L90.0,53.9 L93.0,54.5 L96.0,54.4 L99.0,53.6 L102.0,53.5 L105.0,54.4 L108.0,53.9 L111.0,53.5 L114.0,54.5 L117.0,54.2 L120.0,54.3 L123.0,53.7 L126.0,54.1 L129.0,53.7 L132.0,54.4 L135.0,53.9 L138.0,54.1 L141.0,54.0 L144.0,54.5 L147.0,54.4 L150.0,54.0 L153.0,54.4 L156.0,53.8 L159.0,54.2 L162.0,53.6 L165.0,53.7 L168.0,53.7 L171.0,53.9 L174.0,53.9 L177.0,53.6 L180.0,54.4 L183.0,53.9"/>
</g>
<g fill="none" stroke="#283048" stroke-width="1.7" opacity="0.75" filter="url(#bsvi)">
<path d="M36.8 15 C42 17 45 22 50 24.6"/><path d="M36.8 63 C42 61 45 56 50 54.4"/><path d="M37 0 L37 77"/>
</g>
<path d="M38 20 C43 22 46 26 50 27 L50 52 C46 53 43 57 38 59 Z" fill="#a8b2d0" opacity="0.45" filter="url(#blvi)"/>
<rect x="46.9" y="36" width="1.2" height="5" fill="#e8eef6" opacity="0.8"/>
<g fill="none" stroke="#f2f5fa" stroke-width="0.9" opacity="0.85" filter="url(#bsvi)">
<ellipse cx="58.9" cy="23.3" rx="2.3" ry="2.2"/>
<ellipse cx="67.0" cy="23.6" rx="2.9" ry="1.7"/>
<ellipse cx="75.7" cy="23.3" rx="2.4" ry="2.1"/>
<ellipse cx="80.9" cy="23.8" rx="1.7" ry="1.5"/>
<ellipse cx="89.1" cy="23.8" rx="2.4" ry="1.5"/>
<ellipse cx="99.4" cy="24.0" rx="3.1" ry="1.3"/>
<ellipse cx="106.9" cy="23.3" rx="2.6" ry="2.1"/>
<ellipse cx="113.3" cy="23.4" rx="2.3" ry="2.0"/>
<ellipse cx="120.8" cy="23.8" rx="2.0" ry="1.5"/>
<ellipse cx="134.9" cy="23.5" rx="1.7" ry="1.8"/>
<ellipse cx="143.1" cy="23.3" rx="2.3" ry="2.1"/>
<ellipse cx="148.9" cy="23.7" rx="2.0" ry="1.6"/>
<ellipse cx="154.1" cy="23.8" rx="2.5" ry="1.5"/>
<ellipse cx="161.6" cy="23.5" rx="3.2" ry="1.8"/>
<ellipse cx="169.5" cy="23.3" rx="2.5" ry="2.1"/>
<ellipse cx="175.4" cy="23.7" rx="1.8" ry="1.6"/>
</g>
<circle cx="47.8" cy="29.8" r="2.5" fill="#262e3c" stroke="#e8eef6" stroke-width="1.4"/>
<circle cx="47.8" cy="48.6" r="2.5" fill="#262e3c" stroke="#e8eef6" stroke-width="1.4"/>
<rect x="153.7" y="67.4" width="19.6" height="3" fill="#fff"/>
<polygon points="65.4,17.6 72.0,17.6 68.7,26.799999999999997" fill="#e8102a"/>
<rect x="0" y="0" width="184.3" height="1" fill="#3a3e4a" opacity="0.55"/>
<rect x="0" y="76.1" width="184.3" height="1.2" fill="#9aa4b8" opacity="0.8"/>
<rect x="0" y="0" width="36.3" height="77.3" fill="#ffffff"/>
<rect x="0.4" y="59.9" width="31.4" height="16.9" fill="#8698bc"/>
<g filter="url(#bsvi)"><circle cx="16.6" cy="63.4" r="3.4" fill="#2a3650"/><circle cx="16.6" cy="63.4" r="3.4" fill="none" stroke="#dfe8f2" stroke-width="0.9"/><path d="M11 62 Q13 70 18 68.5 Q22 67 25 61.5" fill="none" stroke="#f0f4f8" stroke-width="1.1"/><circle cx="5" cy="67" r="3.5" fill="#5a6c98" opacity="0.5"/><circle cx="27" cy="68" r="3.5" fill="#6a7ca4" opacity="0.45"/></g>
<rect x="0.4" y="74.7" width="31.4" height="2.1" fill="#4e5e8a" opacity="0.55"/>
<rect x="1.6" y="19.8" width="31.4" height="37.8" rx="1.2" fill="#d41a4c"/>
<rect x="3" y="21.4" width="28.6" height="34.6" rx="1" fill="#b01036"/>
<rect x="4.2" y="22.6" width="25.8" height="32.2" fill="none" stroke="#e8607e" stroke-width="0.6" stroke-dasharray="1.5 1" opacity="0.85"/>
<ellipse cx="18" cy="38.3" rx="10.6" ry="11.8" fill="url(#pkvi)" filter="url(#bsvi)"/>
<rect x="12.5" y="19.6" width="4.1" height="2.2" fill="#f6eef2"/>
</svg><div class="lb" style="width:63px;top:0px">(vi) 10 m</div></div>
<svg class="chart" width="434" height="550" viewBox="0 0 434 550">
<g stroke="#6a6a6a" stroke-width="1" stroke-dasharray="1.7 1.6" fill="none">
<line x1="79.5" y1="277.80" x2="429.70000000000005" y2="277.80"/>
<line x1="79.5" y1="449.18" x2="429.70000000000005" y2="449.18"/>
<line x1="223.70" y1="254.95" x2="223.70" y2="506.30"/>
<line x1="306.10" y1="276.66" x2="306.10" y2="506.30"/>
<line x1="409.10" y1="277.80" x2="409.10" y2="506.30"/>
</g>
<g stroke="#2a2a2a" stroke-width="1.6" fill="none">
<rect x="79.5" y="254.95" width="350.20" height="251.35"/>
</g>
<g stroke="#5a5a5a" stroke-width="1.1" fill="none">

<line x1="100.10" y1="475.45" x2="100.10" y2="486.19"/><line x1="96.20" y1="475.45" x2="104.00" y2="475.45"/><line x1="96.20" y1="486.19" x2="104.00" y2="486.19"/>
<line x1="120.70" y1="463.57" x2="120.70" y2="475.45"/><line x1="116.80" y1="463.57" x2="124.60" y2="463.57"/><line x1="116.80" y1="475.45" x2="124.60" y2="475.45"/>
<line x1="141.30" y1="458.89" x2="141.30" y2="471.45"/><line x1="137.40" y1="458.89" x2="145.20" y2="458.89"/><line x1="137.40" y1="471.45" x2="145.20" y2="471.45"/>
<line x1="161.90" y1="451.46" x2="161.90" y2="465.17"/><line x1="158.00" y1="451.46" x2="165.80" y2="451.46"/><line x1="158.00" y1="465.17" x2="165.80" y2="465.17"/>
<line x1="182.50" y1="445.75" x2="182.50" y2="459.46"/><line x1="178.60" y1="445.75" x2="186.40" y2="445.75"/><line x1="178.60" y1="459.46" x2="186.40" y2="459.46"/>
<line x1="203.10" y1="443.01" x2="203.10" y2="459.00"/><line x1="199.20" y1="443.01" x2="207.00" y2="443.01"/><line x1="199.20" y1="459.00" x2="207.00" y2="459.00"/>
<line x1="223.70" y1="440.04" x2="223.70" y2="458.31"/><line x1="219.80" y1="440.04" x2="227.60" y2="440.04"/><line x1="219.80" y1="458.31" x2="227.60" y2="458.31"/>

<line x1="100.10" y1="456.03" x2="100.10" y2="465.63"/><line x1="96.20" y1="456.03" x2="104.00" y2="456.03"/><line x1="96.20" y1="465.63" x2="104.00" y2="465.63"/>
<line x1="120.70" y1="414.67" x2="120.70" y2="428.38"/><line x1="116.80" y1="414.67" x2="124.60" y2="414.67"/><line x1="116.80" y1="428.38" x2="124.60" y2="428.38"/>
<line x1="141.30" y1="383.60" x2="141.30" y2="413.30"/><line x1="137.40" y1="383.60" x2="145.20" y2="383.60"/><line x1="137.40" y1="413.30" x2="145.20" y2="413.30"/>
<line x1="161.90" y1="361.09" x2="161.90" y2="396.51"/><line x1="158.00" y1="361.09" x2="165.80" y2="361.09"/><line x1="158.00" y1="396.51" x2="165.80" y2="396.51"/>
<line x1="182.50" y1="345.89" x2="182.50" y2="377.88"/><line x1="178.60" y1="345.89" x2="186.40" y2="345.89"/><line x1="178.60" y1="377.88" x2="186.40" y2="377.88"/>
<line x1="203.10" y1="331.61" x2="203.10" y2="362.69"/><line x1="199.20" y1="331.61" x2="207.00" y2="331.61"/><line x1="199.20" y1="362.69" x2="207.00" y2="362.69"/>
<line x1="223.70" y1="323.16" x2="223.70" y2="351.26"/><line x1="219.80" y1="323.16" x2="227.60" y2="323.16"/><line x1="219.80" y1="351.26" x2="227.60" y2="351.26"/>
<line x1="244.30" y1="314.02" x2="244.30" y2="340.52"/><line x1="240.40" y1="314.02" x2="248.20" y2="314.02"/><line x1="240.40" y1="340.52" x2="248.20" y2="340.52"/>
<line x1="264.90" y1="306.93" x2="264.90" y2="333.44"/><line x1="261.00" y1="306.93" x2="268.80" y2="306.93"/><line x1="261.00" y1="333.44" x2="268.80" y2="333.44"/>
<line x1="285.50" y1="302.48" x2="285.50" y2="326.24"/><line x1="281.60" y1="302.48" x2="289.40" y2="302.48"/><line x1="281.60" y1="326.24" x2="289.40" y2="326.24"/>
<line x1="306.10" y1="298.14" x2="306.10" y2="317.79"/><line x1="302.20" y1="298.14" x2="310.00" y2="298.14"/><line x1="302.20" y1="317.79" x2="310.00" y2="317.79"/>
<line x1="326.70" y1="293.80" x2="326.70" y2="309.79"/><line x1="322.80" y1="293.80" x2="330.60" y2="293.80"/><line x1="322.80" y1="309.79" x2="330.60" y2="309.79"/>
<line x1="347.30" y1="288.08" x2="347.30" y2="299.51"/><line x1="343.40" y1="288.08" x2="351.20" y2="288.08"/><line x1="343.40" y1="299.51" x2="351.20" y2="299.51"/>
<line x1="367.90" y1="283.51" x2="367.90" y2="292.65"/><line x1="364.00" y1="283.51" x2="371.80" y2="283.51"/><line x1="364.00" y1="292.65" x2="371.80" y2="292.65"/>
<line x1="388.50" y1="282.71" x2="388.50" y2="287.28"/><line x1="384.60" y1="282.71" x2="392.40" y2="282.71"/><line x1="384.60" y1="287.28" x2="392.40" y2="287.28"/>
<line x1="409.10" y1="276.09" x2="409.10" y2="284.31"/><line x1="405.20" y1="276.09" x2="413.00" y2="276.09"/><line x1="405.20" y1="284.31" x2="413.00" y2="284.31"/>


<line x1="120.70" y1="406.45" x2="120.70" y2="412.62"/><line x1="116.80" y1="406.45" x2="124.60" y2="406.45"/><line x1="116.80" y1="412.62" x2="124.60" y2="412.62"/>
<line x1="141.30" y1="368.51" x2="141.30" y2="382.22"/><line x1="137.40" y1="368.51" x2="145.20" y2="368.51"/><line x1="137.40" y1="382.22" x2="145.20" y2="382.22"/>
<line x1="161.90" y1="347.72" x2="161.90" y2="356.86"/><line x1="158.00" y1="347.72" x2="165.80" y2="347.72"/><line x1="158.00" y1="356.86" x2="165.80" y2="356.86"/>
<line x1="182.50" y1="332.87" x2="182.50" y2="340.87"/><line x1="178.60" y1="332.87" x2="186.40" y2="332.87"/><line x1="178.60" y1="340.87" x2="186.40" y2="340.87"/>
<line x1="203.10" y1="316.64" x2="203.10" y2="325.79"/><line x1="199.20" y1="316.64" x2="207.00" y2="316.64"/><line x1="199.20" y1="325.79" x2="207.00" y2="325.79"/>
<line x1="223.70" y1="296.54" x2="223.70" y2="310.25"/><line x1="219.80" y1="296.54" x2="227.60" y2="296.54"/><line x1="219.80" y1="310.25" x2="227.60" y2="310.25"/>
<line x1="244.30" y1="289.45" x2="244.30" y2="299.96"/><line x1="240.40" y1="289.45" x2="248.20" y2="289.45"/><line x1="240.40" y1="299.96" x2="248.20" y2="299.96"/>
<line x1="264.90" y1="282.03" x2="264.90" y2="291.17"/><line x1="261.00" y1="282.03" x2="268.80" y2="282.03"/><line x1="261.00" y1="291.17" x2="268.80" y2="291.17"/>


</g>
<g stroke="#5a5a5a" stroke-width="1.1">
<circle cx="79.50" cy="506.30" r="3.6" fill="#fff"/>
<circle cx="100.10" cy="460.83" r="3.6" fill="#fff"/>
<circle cx="120.70" cy="421.53" r="3.6" fill="#fff"/>
<circle cx="141.30" cy="398.45" r="3.6" fill="#fff"/>
<circle cx="161.90" cy="378.80" r="3.6" fill="#fff"/>
<circle cx="182.50" cy="361.89" r="3.6" fill="#fff"/>
<circle cx="203.10" cy="347.15" r="3.6" fill="#fff"/>
<circle cx="223.70" cy="337.21" r="3.6" fill="#fff"/>
<circle cx="244.30" cy="327.27" r="3.6" fill="#fff"/>
<circle cx="264.90" cy="320.19" r="3.6" fill="#fff"/>
<circle cx="285.50" cy="314.36" r="3.6" fill="#fff"/>
<circle cx="306.10" cy="307.96" r="3.6" fill="#fff"/>
<circle cx="326.70" cy="301.79" r="3.6" fill="#fff"/>
<circle cx="347.30" cy="293.79" r="3.6" fill="#fff"/>
<circle cx="367.90" cy="288.08" r="3.6" fill="#fff"/>
<circle cx="388.50" cy="285.00" r="3.6" fill="#fff"/>
<circle cx="409.10" cy="280.20" r="3.6" fill="#fff"/>
<rect x="76.05" y="502.85" width="6.9" height="6.9" fill="#fff"/>
<rect x="96.65" y="477.37" width="6.9" height="6.9" fill="#fff"/>
<rect x="117.25" y="466.06" width="6.9" height="6.9" fill="#fff"/>
<rect x="137.85" y="461.72" width="6.9" height="6.9" fill="#fff"/>
<rect x="158.45" y="454.87" width="6.9" height="6.9" fill="#fff"/>
<rect x="179.05" y="449.15" width="6.9" height="6.9" fill="#fff"/>
<rect x="199.65" y="447.55" width="6.9" height="6.9" fill="#fff"/>
<rect x="220.25" y="445.73" width="6.9" height="6.9" fill="#fff"/>
<polygon points="75.40,509.50 83.60,509.50 79.50,502.50" fill="#fff"/>
<polygon points="96.00,449.75 104.20,449.75 100.10,442.75" fill="#fff"/>
<polygon points="116.60,412.73 124.80,412.73 120.70,405.73" fill="#fff"/>
<polygon points="137.20,378.57 145.40,378.57 141.30,371.57" fill="#fff"/>
<polygon points="157.80,355.49 166.00,355.49 161.90,348.49" fill="#fff"/>
<polygon points="178.40,340.07 186.60,340.07 182.50,333.07" fill="#fff"/>
<polygon points="199.00,324.42 207.20,324.42 203.10,317.42" fill="#fff"/>
<polygon points="219.60,306.59 227.80,306.59 223.70,299.59" fill="#fff"/>
<polygon points="240.20,297.91 248.40,297.91 244.30,290.91" fill="#fff"/>
<polygon points="260.80,289.80 269.00,289.80 264.90,282.80" fill="#fff"/>
<polygon points="281.40,282.37 289.60,282.37 285.50,275.37" fill="#fff"/>
<polygon points="302.00,280.09 310.20,280.09 306.10,273.09" fill="#fff"/>
</g>
<g stroke="#2a2a2a" stroke-width="1" fill="none">
<line x1="79.50" y1="506.3" x2="79.50" y2="503.00"/>
<line x1="120.70" y1="506.3" x2="120.70" y2="503.00"/>
<line x1="161.90" y1="506.3" x2="161.90" y2="503.00"/>
<line x1="203.10" y1="506.3" x2="203.10" y2="503.00"/>
<line x1="244.30" y1="506.3" x2="244.30" y2="503.00"/>
<line x1="285.50" y1="506.3" x2="285.50" y2="503.00"/>
<line x1="326.70" y1="506.3" x2="326.70" y2="503.00"/>
<line x1="367.90" y1="506.3" x2="367.90" y2="503.00"/>
<line x1="409.10" y1="506.3" x2="409.10" y2="503.00"/>
<line x1="79.5" y1="506.30" x2="82.80" y2="506.30"/>
<line x1="79.5" y1="449.18" x2="82.80" y2="449.18"/>
<line x1="79.5" y1="392.05" x2="82.80" y2="392.05"/>
<line x1="79.5" y1="334.93" x2="82.80" y2="334.93"/>
<line x1="79.5" y1="277.80" x2="82.80" y2="277.80"/>
</g>
<g font-family="Liberation Sans, Arial, sans-serif" font-size="15" fill="#1a1a1a" stroke="#1a1a1a" stroke-width="0.2">
<text x="79.50" y="524.8" text-anchor="middle">0</text>
<text x="120.70" y="524.8" text-anchor="middle">2</text>
<text x="161.90" y="524.8" text-anchor="middle">4</text>
<text x="203.10" y="524.8" text-anchor="middle">6</text>
<text x="244.30" y="524.8" text-anchor="middle">8</text>
<text x="285.50" y="524.8" text-anchor="middle">10</text>
<text x="326.70" y="524.8" text-anchor="middle">12</text>
<text x="367.90" y="524.8" text-anchor="middle">14</text>
<text x="409.10" y="524.8" text-anchor="middle">16</text>
<text x="73.6" y="511.50" text-anchor="end">0</text>
<text x="73.6" y="454.38" text-anchor="end">5</text>
<text x="73.6" y="397.25" text-anchor="end">10</text>
<text x="73.6" y="340.12" text-anchor="end">15</text>
<text x="73.6" y="283.00" text-anchor="end">20</text>
</g>
<g font-family="Liberation Sans, Arial, sans-serif" font-size="17" fill="#1a1a1a" stroke="#1a1a1a" stroke-width="0.2">
<text x="254.5" y="541.3" text-anchor="middle">Operation time (minute)</text>
<text transform="translate(43.4 383.9) rotate(-90)" text-anchor="middle">Volume of separated plasma (μL)</text>
</g>
<g font-family="Liberation Sans, Arial, sans-serif" font-size="15" fill="#1a1a1a" stroke="#1a1a1a" stroke-width="0.2">
<text x="223.2" y="434.3" text-anchor="middle">~36%</text>
<text x="305.3" y="270.8" text-anchor="middle">~36%</text>
<text x="406.2" y="270.0" text-anchor="middle">~45%</text>
<text x="81.8" y="498.8">(i)</text>
<text x="133" y="430.5">(ii)</text>
<text x="172.2" y="396">(iii)</text>
<text x="274" y="343.5">(iv)</text>
<text x="379.5" y="304.5">(v)</text>
<text x="398.3" y="298.5">(vi)</text>
</g>
<rect x="265.8" y="441.5" width="161.8" height="53.4" fill="#fff" stroke="#8a8a8a" stroke-width="1.1"/>
<g stroke="#5a5a5a" stroke-width="1.1">
<rect x="272.6" y="449.1" width="6.8" height="6.8" fill="#fff"/>
<circle cx="276" cy="468.7" r="3.6" fill="#fff"/>
<polygon points="272,488 280,488 276,481" fill="#fff"/>
</g>
<g font-family="Liberation Sans, Arial, sans-serif" font-size="15.3" fill="#1a1a1a" stroke="#1a1a1a" stroke-width="0.2">
<text x="284.3" y="456.2">50 μL of whole blood</text>
<text x="284.3" y="472">80 μL</text>
<text x="284.3" y="488">100 μL</text>
</g>
</svg>
</body></html>
